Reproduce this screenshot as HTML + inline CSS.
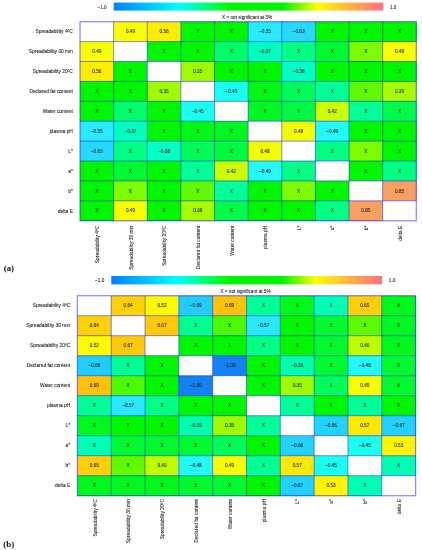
<!DOCTYPE html>
<html><head><meta charset="utf-8"><title>Correlation plots</title>
<style>
html,body{margin:0;padding:0;background:#fff;}
svg{display:block}
text{font-family:"Liberation Sans",sans-serif;fill:#262626;stroke:#262626;stroke-width:0.09px}
.n{font-size:4.66px}
.c{font-size:4.7px}
.l{font-size:4.86px}
.p{font-family:"Liberation Serif",serif;font-weight:bold;font-size:8.9px;fill:#111;stroke:none}
.gl{stroke:#0000ff;stroke-width:1;stroke-opacity:0.45}
.fr{fill:none;stroke:#0000ff;stroke-width:1.3;stroke-opacity:0.45}
</style></head><body>
<svg width="422" height="550" viewBox="0 0 422 550">
<rect width="422" height="550" fill="#fff"/>
<defs><linearGradient id="g21" x1="0" x2="1" y1="0" y2="0"><stop offset="0" stop-color="#0080ff"/><stop offset="0.246" stop-color="#00ffff"/><stop offset="0.42" stop-color="#00fc12"/><stop offset="0.435" stop-color="#00f400"/><stop offset="0.63" stop-color="#00f400"/><stop offset="0.755" stop-color="#ffff00"/><stop offset="0.87" stop-color="#ffb840"/><stop offset="1" stop-color="#ff7080"/></linearGradient></defs>
<rect x="113.7" y="2.6" width="269.50" height="8.00" fill="url(#g21)"/>
<text class="n" x="106.7" y="8.75" text-anchor="end">−1.0</text>
<text class="n" x="389.9" y="8.75">1.0</text>
<text class="n" x="247.15" y="18.70" text-anchor="middle">X = not significant at 5%</text>
<rect x="81.00" y="22.70" width="334.30" height="197.00" fill="#00f700"/>
<rect x="80.00" y="21.70" width="34.03" height="20.30" fill="#fff"/>
<rect x="113.63" y="21.70" width="34.03" height="20.30" fill="#f9ff00"/>
<text class="c" x="130.44" y="33.35" text-anchor="middle">0.49</text>
<rect x="147.26" y="21.70" width="34.03" height="20.30" fill="#ffec03"/>
<text class="c" x="164.07" y="33.35" text-anchor="middle">0.56</text>
<rect x="180.89" y="21.70" width="34.03" height="20.30" fill="#00f700"/>
<text class="c" x="197.71" y="33.35" text-anchor="middle">X</text>
<rect x="214.52" y="21.70" width="34.03" height="20.30" fill="#00f700"/>
<text class="c" x="231.34" y="33.35" text-anchor="middle">X</text>
<rect x="248.15" y="21.70" width="34.03" height="20.30" fill="#28ebff"/>
<text class="c" x="264.97" y="33.35" text-anchor="middle">−0.55</text>
<rect x="281.78" y="21.70" width="34.03" height="20.30" fill="#26daff"/>
<text class="c" x="298.60" y="33.35" text-anchor="middle">−0.63</text>
<rect x="315.41" y="21.70" width="34.03" height="20.30" fill="#00f700"/>
<text class="c" x="332.23" y="33.35" text-anchor="middle">X</text>
<rect x="349.04" y="21.70" width="34.03" height="20.30" fill="#00f700"/>
<text class="c" x="365.86" y="33.35" text-anchor="middle">X</text>
<rect x="382.67" y="21.70" width="34.03" height="20.30" fill="#00f700"/>
<text class="c" x="399.49" y="33.35" text-anchor="middle">X</text>
<rect x="80.00" y="41.60" width="34.03" height="20.30" fill="#f9ff00"/>
<text class="c" x="96.81" y="53.25" text-anchor="middle">0.49</text>
<rect x="113.63" y="41.60" width="34.03" height="20.30" fill="#fff"/>
<rect x="147.26" y="41.60" width="34.03" height="20.30" fill="#00f700"/>
<text class="c" x="164.07" y="53.25" text-anchor="middle">X</text>
<rect x="180.89" y="41.60" width="34.03" height="20.30" fill="#00f700"/>
<text class="c" x="197.71" y="53.25" text-anchor="middle">X</text>
<rect x="214.52" y="41.60" width="34.03" height="20.30" fill="#00fd6a"/>
<text class="c" x="231.34" y="53.25" text-anchor="middle">X</text>
<rect x="248.15" y="41.60" width="34.03" height="20.30" fill="#00ffbe"/>
<text class="c" x="264.97" y="53.25" text-anchor="middle">−0.37</text>
<rect x="281.78" y="41.60" width="34.03" height="20.30" fill="#00ff82"/>
<text class="c" x="298.60" y="53.25" text-anchor="middle">X</text>
<rect x="315.41" y="41.60" width="34.03" height="20.30" fill="#00f933"/>
<text class="c" x="332.23" y="53.25" text-anchor="middle">X</text>
<rect x="349.04" y="41.60" width="34.03" height="20.30" fill="#7ffb00"/>
<text class="c" x="365.86" y="53.25" text-anchor="middle">X</text>
<rect x="382.67" y="41.60" width="34.03" height="20.30" fill="#f9ff00"/>
<text class="c" x="399.49" y="53.25" text-anchor="middle">0.49</text>
<rect x="80.00" y="61.50" width="34.03" height="20.30" fill="#ffec03"/>
<text class="c" x="96.81" y="73.15" text-anchor="middle">0.56</text>
<rect x="113.63" y="61.50" width="34.03" height="20.30" fill="#00f700"/>
<text class="c" x="130.44" y="73.15" text-anchor="middle">X</text>
<rect x="147.26" y="61.50" width="34.03" height="20.30" fill="#fff"/>
<rect x="180.89" y="61.50" width="34.03" height="20.30" fill="#9ffc00"/>
<text class="c" x="197.71" y="73.15" text-anchor="middle">0.35</text>
<rect x="214.52" y="61.50" width="34.03" height="20.30" fill="#00f700"/>
<text class="c" x="231.34" y="73.15" text-anchor="middle">X</text>
<rect x="248.15" y="61.50" width="34.03" height="20.30" fill="#00f700"/>
<text class="c" x="264.97" y="73.15" text-anchor="middle">X</text>
<rect x="281.78" y="61.50" width="34.03" height="20.30" fill="#03ffc4"/>
<text class="c" x="298.60" y="73.15" text-anchor="middle">−0.38</text>
<rect x="315.41" y="61.50" width="34.03" height="20.30" fill="#00f700"/>
<text class="c" x="332.23" y="73.15" text-anchor="middle">X</text>
<rect x="349.04" y="61.50" width="34.03" height="20.30" fill="#00f700"/>
<text class="c" x="365.86" y="73.15" text-anchor="middle">X</text>
<rect x="382.67" y="61.50" width="34.03" height="20.30" fill="#00f700"/>
<text class="c" x="399.49" y="73.15" text-anchor="middle">X</text>
<rect x="80.00" y="81.40" width="34.03" height="20.30" fill="#00f700"/>
<text class="c" x="96.81" y="93.05" text-anchor="middle">X</text>
<rect x="113.63" y="81.40" width="34.03" height="20.30" fill="#00f700"/>
<text class="c" x="130.44" y="93.05" text-anchor="middle">X</text>
<rect x="147.26" y="81.40" width="34.03" height="20.30" fill="#9ffc00"/>
<text class="c" x="164.07" y="93.05" text-anchor="middle">0.35</text>
<rect x="180.89" y="81.40" width="34.03" height="20.30" fill="#fff"/>
<rect x="214.52" y="81.40" width="34.03" height="20.30" fill="#19fff0"/>
<text class="c" x="231.34" y="93.05" text-anchor="middle">−0.45</text>
<rect x="248.15" y="81.40" width="34.03" height="20.30" fill="#00f814"/>
<text class="c" x="264.97" y="93.05" text-anchor="middle">X</text>
<rect x="281.78" y="81.40" width="34.03" height="20.30" fill="#00fc5a"/>
<text class="c" x="298.60" y="93.05" text-anchor="middle">X</text>
<rect x="315.41" y="81.40" width="34.03" height="20.30" fill="#00ff97"/>
<text class="c" x="332.23" y="93.05" text-anchor="middle">X</text>
<rect x="349.04" y="81.40" width="34.03" height="20.30" fill="#60fa00"/>
<text class="c" x="365.86" y="93.05" text-anchor="middle">X</text>
<rect x="382.67" y="81.40" width="34.03" height="20.30" fill="#a6fc00"/>
<text class="c" x="399.49" y="93.05" text-anchor="middle">0.36</text>
<rect x="80.00" y="101.30" width="34.03" height="20.30" fill="#00f700"/>
<text class="c" x="96.81" y="112.95" text-anchor="middle">X</text>
<rect x="113.63" y="101.30" width="34.03" height="20.30" fill="#00fd6a"/>
<text class="c" x="130.44" y="112.95" text-anchor="middle">X</text>
<rect x="147.26" y="101.30" width="34.03" height="20.30" fill="#00f700"/>
<text class="c" x="164.07" y="112.95" text-anchor="middle">X</text>
<rect x="180.89" y="101.30" width="34.03" height="20.30" fill="#19fff0"/>
<text class="c" x="197.71" y="112.95" text-anchor="middle">−0.45</text>
<rect x="214.52" y="101.30" width="34.03" height="20.30" fill="#fff"/>
<rect x="248.15" y="101.30" width="34.03" height="20.30" fill="#00f820"/>
<text class="c" x="264.97" y="112.95" text-anchor="middle">X</text>
<rect x="281.78" y="101.30" width="34.03" height="20.30" fill="#00fa43"/>
<text class="c" x="298.60" y="112.95" text-anchor="middle">X</text>
<rect x="315.41" y="101.30" width="34.03" height="20.30" fill="#ccfd00"/>
<text class="c" x="332.23" y="112.95" text-anchor="middle">0.42</text>
<rect x="349.04" y="101.30" width="34.03" height="20.30" fill="#00ff97"/>
<text class="c" x="365.86" y="112.95" text-anchor="middle">X</text>
<rect x="382.67" y="101.30" width="34.03" height="20.30" fill="#00fb4b"/>
<text class="c" x="399.49" y="112.95" text-anchor="middle">X</text>
<rect x="80.00" y="121.20" width="34.03" height="20.30" fill="#28ebff"/>
<text class="c" x="96.81" y="132.85" text-anchor="middle">−0.55</text>
<rect x="113.63" y="121.20" width="34.03" height="20.30" fill="#00ffbe"/>
<text class="c" x="130.44" y="132.85" text-anchor="middle">−0.37</text>
<rect x="147.26" y="121.20" width="34.03" height="20.30" fill="#00f700"/>
<text class="c" x="164.07" y="132.85" text-anchor="middle">X</text>
<rect x="180.89" y="121.20" width="34.03" height="20.30" fill="#00f814"/>
<text class="c" x="197.71" y="132.85" text-anchor="middle">X</text>
<rect x="214.52" y="121.20" width="34.03" height="20.30" fill="#00f820"/>
<text class="c" x="231.34" y="132.85" text-anchor="middle">X</text>
<rect x="248.15" y="121.20" width="34.03" height="20.30" fill="#fff"/>
<rect x="281.78" y="121.20" width="34.03" height="20.30" fill="#f2ff00"/>
<text class="c" x="298.60" y="132.85" text-anchor="middle">0.48</text>
<rect x="315.41" y="121.20" width="34.03" height="20.30" fill="#25f8fc"/>
<text class="c" x="332.23" y="132.85" text-anchor="middle">−0.49</text>
<rect x="349.04" y="121.20" width="34.03" height="20.30" fill="#00f700"/>
<text class="c" x="365.86" y="132.85" text-anchor="middle">X</text>
<rect x="382.67" y="121.20" width="34.03" height="20.30" fill="#00f700"/>
<text class="c" x="399.49" y="132.85" text-anchor="middle">X</text>
<rect x="80.00" y="141.10" width="34.03" height="20.30" fill="#26daff"/>
<text class="c" x="96.81" y="152.75" text-anchor="middle">−0.63</text>
<rect x="113.63" y="141.10" width="34.03" height="20.30" fill="#00ff82"/>
<text class="c" x="130.44" y="152.75" text-anchor="middle">X</text>
<rect x="147.26" y="141.10" width="34.03" height="20.30" fill="#03ffc4"/>
<text class="c" x="164.07" y="152.75" text-anchor="middle">−0.38</text>
<rect x="180.89" y="141.10" width="34.03" height="20.30" fill="#00fc5a"/>
<text class="c" x="197.71" y="152.75" text-anchor="middle">X</text>
<rect x="214.52" y="141.10" width="34.03" height="20.30" fill="#00fa43"/>
<text class="c" x="231.34" y="152.75" text-anchor="middle">X</text>
<rect x="248.15" y="141.10" width="34.03" height="20.30" fill="#f2ff00"/>
<text class="c" x="264.97" y="152.75" text-anchor="middle">0.48</text>
<rect x="281.78" y="141.10" width="34.03" height="20.30" fill="#fff"/>
<rect x="315.41" y="141.10" width="34.03" height="20.30" fill="#00ff82"/>
<text class="c" x="332.23" y="152.75" text-anchor="middle">X</text>
<rect x="349.04" y="141.10" width="34.03" height="20.30" fill="#7ffb00"/>
<text class="c" x="365.86" y="152.75" text-anchor="middle">X</text>
<rect x="382.67" y="141.10" width="34.03" height="20.30" fill="#00f700"/>
<text class="c" x="399.49" y="152.75" text-anchor="middle">X</text>
<rect x="80.00" y="161.00" width="34.03" height="20.30" fill="#00f700"/>
<text class="c" x="96.81" y="172.65" text-anchor="middle">X</text>
<rect x="113.63" y="161.00" width="34.03" height="20.30" fill="#00f933"/>
<text class="c" x="130.44" y="172.65" text-anchor="middle">X</text>
<rect x="147.26" y="161.00" width="34.03" height="20.30" fill="#00f700"/>
<text class="c" x="164.07" y="172.65" text-anchor="middle">X</text>
<rect x="180.89" y="161.00" width="34.03" height="20.30" fill="#00ff97"/>
<text class="c" x="197.71" y="172.65" text-anchor="middle">X</text>
<rect x="214.52" y="161.00" width="34.03" height="20.30" fill="#ccfd00"/>
<text class="c" x="231.34" y="172.65" text-anchor="middle">0.42</text>
<rect x="248.15" y="161.00" width="34.03" height="20.30" fill="#25f8fc"/>
<text class="c" x="264.97" y="172.65" text-anchor="middle">−0.49</text>
<rect x="281.78" y="161.00" width="34.03" height="20.30" fill="#00ff82"/>
<text class="c" x="298.60" y="172.65" text-anchor="middle">X</text>
<rect x="315.41" y="161.00" width="34.03" height="20.30" fill="#fff"/>
<rect x="349.04" y="161.00" width="34.03" height="20.30" fill="#00f700"/>
<text class="c" x="365.86" y="172.65" text-anchor="middle">X</text>
<rect x="382.67" y="161.00" width="34.03" height="20.30" fill="#00ff82"/>
<text class="c" x="399.49" y="172.65" text-anchor="middle">X</text>
<rect x="80.00" y="180.90" width="34.03" height="20.30" fill="#00f700"/>
<text class="c" x="96.81" y="192.55" text-anchor="middle">X</text>
<rect x="113.63" y="180.90" width="34.03" height="20.30" fill="#7ffb00"/>
<text class="c" x="130.44" y="192.55" text-anchor="middle">X</text>
<rect x="147.26" y="180.90" width="34.03" height="20.30" fill="#00f700"/>
<text class="c" x="164.07" y="192.55" text-anchor="middle">X</text>
<rect x="180.89" y="180.90" width="34.03" height="20.30" fill="#60fa00"/>
<text class="c" x="197.71" y="192.55" text-anchor="middle">X</text>
<rect x="214.52" y="180.90" width="34.03" height="20.30" fill="#00ff97"/>
<text class="c" x="231.34" y="192.55" text-anchor="middle">X</text>
<rect x="248.15" y="180.90" width="34.03" height="20.30" fill="#00f700"/>
<text class="c" x="264.97" y="192.55" text-anchor="middle">X</text>
<rect x="281.78" y="180.90" width="34.03" height="20.30" fill="#7ffb00"/>
<text class="c" x="298.60" y="192.55" text-anchor="middle">X</text>
<rect x="315.41" y="180.90" width="34.03" height="20.30" fill="#00f700"/>
<text class="c" x="332.23" y="192.55" text-anchor="middle">X</text>
<rect x="349.04" y="180.90" width="34.03" height="20.30" fill="#fff"/>
<rect x="382.67" y="180.90" width="34.03" height="20.30" fill="#f7a060"/>
<text class="c" x="399.49" y="192.55" text-anchor="middle">0.85</text>
<rect x="80.00" y="200.80" width="34.03" height="20.30" fill="#00f700"/>
<text class="c" x="96.81" y="212.45" text-anchor="middle">X</text>
<rect x="113.63" y="200.80" width="34.03" height="20.30" fill="#f9ff00"/>
<text class="c" x="130.44" y="212.45" text-anchor="middle">0.49</text>
<rect x="147.26" y="200.80" width="34.03" height="20.30" fill="#00f700"/>
<text class="c" x="164.07" y="212.45" text-anchor="middle">X</text>
<rect x="180.89" y="200.80" width="34.03" height="20.30" fill="#a6fc00"/>
<text class="c" x="197.71" y="212.45" text-anchor="middle">0.36</text>
<rect x="214.52" y="200.80" width="34.03" height="20.30" fill="#00fb4b"/>
<text class="c" x="231.34" y="212.45" text-anchor="middle">X</text>
<rect x="248.15" y="200.80" width="34.03" height="20.30" fill="#00f700"/>
<text class="c" x="264.97" y="212.45" text-anchor="middle">X</text>
<rect x="281.78" y="200.80" width="34.03" height="20.30" fill="#00f700"/>
<text class="c" x="298.60" y="212.45" text-anchor="middle">X</text>
<rect x="315.41" y="200.80" width="34.03" height="20.30" fill="#00ff82"/>
<text class="c" x="332.23" y="212.45" text-anchor="middle">X</text>
<rect x="349.04" y="200.80" width="34.03" height="20.30" fill="#f7a060"/>
<text class="c" x="365.86" y="212.45" text-anchor="middle">0.85</text>
<rect x="382.67" y="200.80" width="34.03" height="20.30" fill="#fff"/>
<rect class="fr" x="80.00" y="21.70" width="336.30" height="199.00"/>
<line class="gl" x1="113.63" y1="21.70" x2="113.63" y2="220.70"/>
<line class="gl" x1="80.00" y1="41.60" x2="416.30" y2="41.60"/>
<line class="gl" x1="147.26" y1="21.70" x2="147.26" y2="220.70"/>
<line class="gl" x1="80.00" y1="61.50" x2="416.30" y2="61.50"/>
<line class="gl" x1="180.89" y1="21.70" x2="180.89" y2="220.70"/>
<line class="gl" x1="80.00" y1="81.40" x2="416.30" y2="81.40"/>
<line class="gl" x1="214.52" y1="21.70" x2="214.52" y2="220.70"/>
<line class="gl" x1="80.00" y1="101.30" x2="416.30" y2="101.30"/>
<line class="gl" x1="248.15" y1="21.70" x2="248.15" y2="220.70"/>
<line class="gl" x1="80.00" y1="121.20" x2="416.30" y2="121.20"/>
<line class="gl" x1="281.78" y1="21.70" x2="281.78" y2="220.70"/>
<line class="gl" x1="80.00" y1="141.10" x2="416.30" y2="141.10"/>
<line class="gl" x1="315.41" y1="21.70" x2="315.41" y2="220.70"/>
<line class="gl" x1="80.00" y1="161.00" x2="416.30" y2="161.00"/>
<line class="gl" x1="349.04" y1="21.70" x2="349.04" y2="220.70"/>
<line class="gl" x1="80.00" y1="180.90" x2="416.30" y2="180.90"/>
<line class="gl" x1="382.67" y1="21.70" x2="382.67" y2="220.70"/>
<line class="gl" x1="80.00" y1="200.80" x2="416.30" y2="200.80"/>
<text class="l" x="72.9" y="33.45" text-anchor="end">Spreadability 4ºC</text>
<text class="l" transform="translate(99.02,225.70) rotate(-90)" text-anchor="end">Spreadability 4ºC</text>
<text class="l" x="72.9" y="53.35" text-anchor="end">Spreadability 30 min</text>
<text class="l" transform="translate(132.64,225.70) rotate(-90)" text-anchor="end">Spreadability 30 min</text>
<text class="l" x="72.9" y="73.25" text-anchor="end">Spreadability 20ºC</text>
<text class="l" transform="translate(166.27,225.70) rotate(-90)" text-anchor="end">Spreadability 20ºC</text>
<text class="l" x="72.9" y="93.15" text-anchor="end">Declared fat content</text>
<text class="l" transform="translate(199.91,225.70) rotate(-90)" text-anchor="end">Declared fat content</text>
<text class="l" x="72.9" y="113.05" text-anchor="end">Water content</text>
<text class="l" transform="translate(233.53,225.70) rotate(-90)" text-anchor="end">Water content</text>
<text class="l" x="72.9" y="132.95" text-anchor="end">plasma pH</text>
<text class="l" transform="translate(267.17,225.70) rotate(-90)" text-anchor="end">plasma pH</text>
<text class="l" x="72.9" y="152.85" text-anchor="end">L*</text>
<text class="l" transform="translate(300.80,225.70) rotate(-90)" text-anchor="end">L*</text>
<text class="l" x="72.9" y="172.75" text-anchor="end">a*</text>
<text class="l" transform="translate(334.43,225.70) rotate(-90)" text-anchor="end">a*</text>
<text class="l" x="72.9" y="192.65" text-anchor="end">b*</text>
<text class="l" transform="translate(368.06,225.70) rotate(-90)" text-anchor="end">b*</text>
<text class="l" x="72.9" y="212.55" text-anchor="end">delta E</text>
<text class="l" transform="translate(401.69,225.70) rotate(-90)" text-anchor="end">delta E</text>
<defs><linearGradient id="g295" x1="0" x2="1" y1="0" y2="0"><stop offset="0" stop-color="#0080ff"/><stop offset="0.246" stop-color="#00ffff"/><stop offset="0.42" stop-color="#00fc12"/><stop offset="0.435" stop-color="#00f400"/><stop offset="0.63" stop-color="#00f400"/><stop offset="0.755" stop-color="#ffff00"/><stop offset="0.87" stop-color="#ffb840"/><stop offset="1" stop-color="#ff7080"/></linearGradient></defs>
<rect x="111.3" y="276.0" width="270.80" height="8.40" fill="url(#g295)"/>
<text class="n" x="104.3" y="282.35" text-anchor="end">−1.0</text>
<text class="n" x="388.8" y="282.35">1.0</text>
<text class="n" x="245.50" y="292.50" text-anchor="middle">X = not significant at 5%</text>
<rect x="78.40" y="296.70" width="336.20" height="198.00" fill="#00f700"/>
<rect x="77.40" y="295.70" width="34.22" height="20.40" fill="#fff"/>
<rect x="111.22" y="295.70" width="34.22" height="20.40" fill="#ffd207"/>
<text class="c" x="128.13" y="306.60" text-anchor="middle">0.64</text>
<rect x="145.04" y="295.70" width="34.22" height="20.40" fill="#fff901"/>
<text class="c" x="161.95" y="306.60" text-anchor="middle">0.52</text>
<rect x="178.86" y="295.70" width="34.22" height="20.40" fill="#21cdff"/>
<text class="c" x="195.77" y="306.60" text-anchor="middle">−0.69</text>
<rect x="212.68" y="295.70" width="34.22" height="20.40" fill="#ffc20a"/>
<text class="c" x="229.59" y="306.60" text-anchor="middle">0.69</text>
<rect x="246.50" y="295.70" width="34.22" height="20.40" fill="#00ff97"/>
<text class="c" x="263.41" y="306.60" text-anchor="middle">X</text>
<rect x="280.32" y="295.70" width="34.22" height="20.40" fill="#00f81c"/>
<text class="c" x="297.23" y="306.60" text-anchor="middle">X</text>
<rect x="314.14" y="295.70" width="34.22" height="20.40" fill="#00ffb5"/>
<text class="c" x="331.05" y="306.60" text-anchor="middle">X</text>
<rect x="347.96" y="295.70" width="34.22" height="20.40" fill="#ffcf08"/>
<text class="c" x="364.87" y="306.60" text-anchor="middle">0.65</text>
<rect x="381.78" y="295.70" width="34.22" height="20.40" fill="#00f81c"/>
<text class="c" x="398.69" y="306.60" text-anchor="middle">X</text>
<rect x="77.40" y="315.70" width="34.22" height="20.40" fill="#ffd207"/>
<text class="c" x="94.31" y="326.60" text-anchor="middle">0.64</text>
<rect x="111.22" y="315.70" width="34.22" height="20.40" fill="#fff"/>
<rect x="145.04" y="315.70" width="34.22" height="20.40" fill="#ffc909"/>
<text class="c" x="161.95" y="326.60" text-anchor="middle">0.67</text>
<rect x="178.86" y="315.70" width="34.22" height="20.40" fill="#00ff91"/>
<text class="c" x="195.77" y="326.60" text-anchor="middle">X</text>
<rect x="212.68" y="315.70" width="34.22" height="20.40" fill="#4cf900"/>
<text class="c" x="229.59" y="326.60" text-anchor="middle">X</text>
<rect x="246.50" y="315.70" width="34.22" height="20.40" fill="#28e7ff"/>
<text class="c" x="263.41" y="326.60" text-anchor="middle">−0.57</text>
<rect x="280.32" y="315.70" width="34.22" height="20.40" fill="#00f700"/>
<text class="c" x="297.23" y="326.60" text-anchor="middle">X</text>
<rect x="314.14" y="315.70" width="34.22" height="20.40" fill="#00f92f"/>
<text class="c" x="331.05" y="326.60" text-anchor="middle">X</text>
<rect x="347.96" y="315.70" width="34.22" height="20.40" fill="#60fa00"/>
<text class="c" x="364.87" y="326.60" text-anchor="middle">X</text>
<rect x="381.78" y="315.70" width="34.22" height="20.40" fill="#00f820"/>
<text class="c" x="398.69" y="326.60" text-anchor="middle">X</text>
<rect x="77.40" y="335.70" width="34.22" height="20.40" fill="#fff901"/>
<text class="c" x="94.31" y="346.60" text-anchor="middle">0.52</text>
<rect x="111.22" y="335.70" width="34.22" height="20.40" fill="#ffc909"/>
<text class="c" x="128.13" y="346.60" text-anchor="middle">0.67</text>
<rect x="145.04" y="335.70" width="34.22" height="20.40" fill="#fff"/>
<rect x="178.86" y="335.70" width="34.22" height="20.40" fill="#00f700"/>
<text class="c" x="195.77" y="346.60" text-anchor="middle">X</text>
<rect x="212.68" y="335.70" width="34.22" height="20.40" fill="#00f700"/>
<text class="c" x="229.59" y="346.60" text-anchor="middle">X</text>
<rect x="246.50" y="335.70" width="34.22" height="20.40" fill="#00ff82"/>
<text class="c" x="263.41" y="346.60" text-anchor="middle">X</text>
<rect x="280.32" y="335.70" width="34.22" height="20.40" fill="#00f700"/>
<text class="c" x="297.23" y="346.60" text-anchor="middle">X</text>
<rect x="314.14" y="335.70" width="34.22" height="20.40" fill="#00f92f"/>
<text class="c" x="331.05" y="346.60" text-anchor="middle">X</text>
<rect x="347.96" y="335.70" width="34.22" height="20.40" fill="#bffd00"/>
<text class="c" x="364.87" y="346.60" text-anchor="middle">0.40</text>
<rect x="381.78" y="335.70" width="34.22" height="20.40" fill="#00f81c"/>
<text class="c" x="398.69" y="346.60" text-anchor="middle">X</text>
<rect x="77.40" y="355.70" width="34.22" height="20.40" fill="#21cdff"/>
<text class="c" x="94.31" y="366.60" text-anchor="middle">−0.69</text>
<rect x="111.22" y="355.70" width="34.22" height="20.40" fill="#00ff91"/>
<text class="c" x="128.13" y="366.60" text-anchor="middle">X</text>
<rect x="145.04" y="355.70" width="34.22" height="20.40" fill="#00f700"/>
<text class="c" x="161.95" y="366.60" text-anchor="middle">X</text>
<rect x="178.86" y="355.70" width="34.22" height="20.40" fill="#fff"/>
<rect x="212.68" y="355.70" width="34.22" height="20.40" fill="#1482f2"/>
<text class="c" x="229.59" y="366.60" text-anchor="middle">−1.00</text>
<rect x="246.50" y="355.70" width="34.22" height="20.40" fill="#00f700"/>
<text class="c" x="263.41" y="366.60" text-anchor="middle">X</text>
<rect x="280.32" y="355.70" width="34.22" height="20.40" fill="#00ffad"/>
<text class="c" x="297.23" y="366.60" text-anchor="middle">−0.35</text>
<rect x="314.14" y="355.70" width="34.22" height="20.40" fill="#00f92f"/>
<text class="c" x="331.05" y="366.60" text-anchor="middle">X</text>
<rect x="347.96" y="355.70" width="34.22" height="20.40" fill="#22faf9"/>
<text class="c" x="364.87" y="366.60" text-anchor="middle">−0.48</text>
<rect x="381.78" y="355.70" width="34.22" height="20.40" fill="#00f92f"/>
<text class="c" x="398.69" y="366.60" text-anchor="middle">X</text>
<rect x="77.40" y="375.70" width="34.22" height="20.40" fill="#ffc20a"/>
<text class="c" x="94.31" y="386.60" text-anchor="middle">0.69</text>
<rect x="111.22" y="375.70" width="34.22" height="20.40" fill="#4cf900"/>
<text class="c" x="128.13" y="386.60" text-anchor="middle">X</text>
<rect x="145.04" y="375.70" width="34.22" height="20.40" fill="#00f700"/>
<text class="c" x="161.95" y="386.60" text-anchor="middle">X</text>
<rect x="178.86" y="375.70" width="34.22" height="20.40" fill="#1482f2"/>
<text class="c" x="195.77" y="386.60" text-anchor="middle">−1.00</text>
<rect x="212.68" y="375.70" width="34.22" height="20.40" fill="#fff"/>
<rect x="246.50" y="375.70" width="34.22" height="20.40" fill="#00f700"/>
<text class="c" x="263.41" y="386.60" text-anchor="middle">X</text>
<rect x="280.32" y="375.70" width="34.22" height="20.40" fill="#9ffc00"/>
<text class="c" x="297.23" y="386.60" text-anchor="middle">0.35</text>
<rect x="314.14" y="375.70" width="34.22" height="20.40" fill="#00fc5a"/>
<text class="c" x="331.05" y="386.60" text-anchor="middle">X</text>
<rect x="347.96" y="375.70" width="34.22" height="20.40" fill="#f9ff00"/>
<text class="c" x="364.87" y="386.60" text-anchor="middle">0.49</text>
<rect x="381.78" y="375.70" width="34.22" height="20.40" fill="#00f92f"/>
<text class="c" x="398.69" y="386.60" text-anchor="middle">X</text>
<rect x="77.40" y="395.70" width="34.22" height="20.40" fill="#00ff97"/>
<text class="c" x="94.31" y="406.60" text-anchor="middle">X</text>
<rect x="111.22" y="395.70" width="34.22" height="20.40" fill="#28e7ff"/>
<text class="c" x="128.13" y="406.60" text-anchor="middle">−0.57</text>
<rect x="145.04" y="395.70" width="34.22" height="20.40" fill="#00ff82"/>
<text class="c" x="161.95" y="406.60" text-anchor="middle">X</text>
<rect x="178.86" y="395.70" width="34.22" height="20.40" fill="#00f700"/>
<text class="c" x="195.77" y="406.60" text-anchor="middle">X</text>
<rect x="212.68" y="395.70" width="34.22" height="20.40" fill="#00f700"/>
<text class="c" x="229.59" y="406.60" text-anchor="middle">X</text>
<rect x="246.50" y="395.70" width="34.22" height="20.40" fill="#fff"/>
<rect x="280.32" y="395.70" width="34.22" height="20.40" fill="#00ff97"/>
<text class="c" x="297.23" y="406.60" text-anchor="middle">X</text>
<rect x="314.14" y="395.70" width="34.22" height="20.40" fill="#00f700"/>
<text class="c" x="331.05" y="406.60" text-anchor="middle">X</text>
<rect x="347.96" y="395.70" width="34.22" height="20.40" fill="#00ff97"/>
<text class="c" x="364.87" y="406.60" text-anchor="middle">X</text>
<rect x="381.78" y="395.70" width="34.22" height="20.40" fill="#00f700"/>
<text class="c" x="398.69" y="406.60" text-anchor="middle">X</text>
<rect x="77.40" y="415.70" width="34.22" height="20.40" fill="#00f81c"/>
<text class="c" x="94.31" y="426.60" text-anchor="middle">X</text>
<rect x="111.22" y="415.70" width="34.22" height="20.40" fill="#00f700"/>
<text class="c" x="128.13" y="426.60" text-anchor="middle">X</text>
<rect x="145.04" y="415.70" width="34.22" height="20.40" fill="#00f700"/>
<text class="c" x="161.95" y="426.60" text-anchor="middle">X</text>
<rect x="178.86" y="415.70" width="34.22" height="20.40" fill="#00ffad"/>
<text class="c" x="195.77" y="426.60" text-anchor="middle">−0.35</text>
<rect x="212.68" y="415.70" width="34.22" height="20.40" fill="#9ffc00"/>
<text class="c" x="229.59" y="426.60" text-anchor="middle">0.35</text>
<rect x="246.50" y="415.70" width="34.22" height="20.40" fill="#00ff97"/>
<text class="c" x="263.41" y="426.60" text-anchor="middle">X</text>
<rect x="280.32" y="415.70" width="34.22" height="20.40" fill="#fff"/>
<rect x="314.14" y="415.70" width="34.22" height="20.40" fill="#23d3ff"/>
<text class="c" x="331.05" y="426.60" text-anchor="middle">−0.66</text>
<rect x="347.96" y="415.70" width="34.22" height="20.40" fill="#ffe903"/>
<text class="c" x="364.87" y="426.60" text-anchor="middle">0.57</text>
<rect x="381.78" y="415.70" width="34.22" height="20.40" fill="#22d1ff"/>
<text class="c" x="398.69" y="426.60" text-anchor="middle">−0.67</text>
<rect x="77.40" y="435.70" width="34.22" height="20.40" fill="#00ffb5"/>
<text class="c" x="94.31" y="446.60" text-anchor="middle">X</text>
<rect x="111.22" y="435.70" width="34.22" height="20.40" fill="#00f92f"/>
<text class="c" x="128.13" y="446.60" text-anchor="middle">X</text>
<rect x="145.04" y="435.70" width="34.22" height="20.40" fill="#00f92f"/>
<text class="c" x="161.95" y="446.60" text-anchor="middle">X</text>
<rect x="178.86" y="435.70" width="34.22" height="20.40" fill="#00f92f"/>
<text class="c" x="195.77" y="446.60" text-anchor="middle">X</text>
<rect x="212.68" y="435.70" width="34.22" height="20.40" fill="#00fc5a"/>
<text class="c" x="229.59" y="446.60" text-anchor="middle">X</text>
<rect x="246.50" y="435.70" width="34.22" height="20.40" fill="#00f700"/>
<text class="c" x="263.41" y="446.60" text-anchor="middle">X</text>
<rect x="280.32" y="435.70" width="34.22" height="20.40" fill="#23d3ff"/>
<text class="c" x="297.23" y="446.60" text-anchor="middle">−0.66</text>
<rect x="314.14" y="435.70" width="34.22" height="20.40" fill="#fff"/>
<rect x="347.96" y="435.70" width="34.22" height="20.40" fill="#19fff0"/>
<text class="c" x="364.87" y="446.60" text-anchor="middle">−0.45</text>
<rect x="381.78" y="435.70" width="34.22" height="20.40" fill="#fff502"/>
<text class="c" x="398.69" y="446.60" text-anchor="middle">0.53</text>
<rect x="77.40" y="455.70" width="34.22" height="20.40" fill="#ffcf08"/>
<text class="c" x="94.31" y="466.60" text-anchor="middle">0.65</text>
<rect x="111.22" y="455.70" width="34.22" height="20.40" fill="#60fa00"/>
<text class="c" x="128.13" y="466.60" text-anchor="middle">X</text>
<rect x="145.04" y="455.70" width="34.22" height="20.40" fill="#bffd00"/>
<text class="c" x="161.95" y="466.60" text-anchor="middle">0.40</text>
<rect x="178.86" y="455.70" width="34.22" height="20.40" fill="#22faf9"/>
<text class="c" x="195.77" y="466.60" text-anchor="middle">−0.48</text>
<rect x="212.68" y="455.70" width="34.22" height="20.40" fill="#f9ff00"/>
<text class="c" x="229.59" y="466.60" text-anchor="middle">0.49</text>
<rect x="246.50" y="455.70" width="34.22" height="20.40" fill="#00ff97"/>
<text class="c" x="263.41" y="466.60" text-anchor="middle">X</text>
<rect x="280.32" y="455.70" width="34.22" height="20.40" fill="#ffe903"/>
<text class="c" x="297.23" y="466.60" text-anchor="middle">0.57</text>
<rect x="314.14" y="455.70" width="34.22" height="20.40" fill="#19fff0"/>
<text class="c" x="331.05" y="466.60" text-anchor="middle">−0.45</text>
<rect x="347.96" y="455.70" width="34.22" height="20.40" fill="#fff"/>
<rect x="381.78" y="455.70" width="34.22" height="20.40" fill="#00ffb5"/>
<text class="c" x="398.69" y="466.60" text-anchor="middle">X</text>
<rect x="77.40" y="475.70" width="34.22" height="20.40" fill="#00f81c"/>
<text class="c" x="94.31" y="486.60" text-anchor="middle">X</text>
<rect x="111.22" y="475.70" width="34.22" height="20.40" fill="#00f820"/>
<text class="c" x="128.13" y="486.60" text-anchor="middle">X</text>
<rect x="145.04" y="475.70" width="34.22" height="20.40" fill="#00f81c"/>
<text class="c" x="161.95" y="486.60" text-anchor="middle">X</text>
<rect x="178.86" y="475.70" width="34.22" height="20.40" fill="#00f92f"/>
<text class="c" x="195.77" y="486.60" text-anchor="middle">X</text>
<rect x="212.68" y="475.70" width="34.22" height="20.40" fill="#00f92f"/>
<text class="c" x="229.59" y="486.60" text-anchor="middle">X</text>
<rect x="246.50" y="475.70" width="34.22" height="20.40" fill="#00f700"/>
<text class="c" x="263.41" y="486.60" text-anchor="middle">X</text>
<rect x="280.32" y="475.70" width="34.22" height="20.40" fill="#22d1ff"/>
<text class="c" x="297.23" y="486.60" text-anchor="middle">−0.67</text>
<rect x="314.14" y="475.70" width="34.22" height="20.40" fill="#fff502"/>
<text class="c" x="331.05" y="486.60" text-anchor="middle">0.53</text>
<rect x="347.96" y="475.70" width="34.22" height="20.40" fill="#00ffb5"/>
<text class="c" x="364.87" y="486.60" text-anchor="middle">X</text>
<rect x="381.78" y="475.70" width="34.22" height="20.40" fill="#fff"/>
<rect class="fr" x="77.40" y="295.70" width="338.20" height="200.00"/>
<line class="gl" x1="111.22" y1="295.70" x2="111.22" y2="495.70"/>
<line class="gl" x1="77.40" y1="315.70" x2="415.60" y2="315.70"/>
<line class="gl" x1="145.04" y1="295.70" x2="145.04" y2="495.70"/>
<line class="gl" x1="77.40" y1="335.70" x2="415.60" y2="335.70"/>
<line class="gl" x1="178.86" y1="295.70" x2="178.86" y2="495.70"/>
<line class="gl" x1="77.40" y1="355.70" x2="415.60" y2="355.70"/>
<line class="gl" x1="212.68" y1="295.70" x2="212.68" y2="495.70"/>
<line class="gl" x1="77.40" y1="375.70" x2="415.60" y2="375.70"/>
<line class="gl" x1="246.50" y1="295.70" x2="246.50" y2="495.70"/>
<line class="gl" x1="77.40" y1="395.70" x2="415.60" y2="395.70"/>
<line class="gl" x1="280.32" y1="295.70" x2="280.32" y2="495.70"/>
<line class="gl" x1="77.40" y1="415.70" x2="415.60" y2="415.70"/>
<line class="gl" x1="314.14" y1="295.70" x2="314.14" y2="495.70"/>
<line class="gl" x1="77.40" y1="435.70" x2="415.60" y2="435.70"/>
<line class="gl" x1="347.96" y1="295.70" x2="347.96" y2="495.70"/>
<line class="gl" x1="77.40" y1="455.70" x2="415.60" y2="455.70"/>
<line class="gl" x1="381.78" y1="295.70" x2="381.78" y2="495.70"/>
<line class="gl" x1="77.40" y1="475.70" x2="415.60" y2="475.70"/>
<text class="l" x="70.2" y="306.70" text-anchor="end">Spreadability 4ºC</text>
<text class="l" transform="translate(96.51,499.10) rotate(-90)" text-anchor="end">Spreadability 4ºC</text>
<text class="l" x="70.2" y="326.70" text-anchor="end">Spreadability 30 min</text>
<text class="l" transform="translate(130.33,499.10) rotate(-90)" text-anchor="end">Spreadability 30 min</text>
<text class="l" x="70.2" y="346.70" text-anchor="end">Spreadability 20ºC</text>
<text class="l" transform="translate(164.15,499.10) rotate(-90)" text-anchor="end">Spreadability 20ºC</text>
<text class="l" x="70.2" y="366.70" text-anchor="end">Declared fat content</text>
<text class="l" transform="translate(197.97,499.10) rotate(-90)" text-anchor="end">Declared fat content</text>
<text class="l" x="70.2" y="386.70" text-anchor="end">Water content</text>
<text class="l" transform="translate(231.79,499.10) rotate(-90)" text-anchor="end">Water content</text>
<text class="l" x="70.2" y="406.70" text-anchor="end">plasma pH</text>
<text class="l" transform="translate(265.61,499.10) rotate(-90)" text-anchor="end">plasma pH</text>
<text class="l" x="70.2" y="426.70" text-anchor="end">L*</text>
<text class="l" transform="translate(299.43,499.10) rotate(-90)" text-anchor="end">L*</text>
<text class="l" x="70.2" y="446.70" text-anchor="end">a*</text>
<text class="l" transform="translate(333.25,499.10) rotate(-90)" text-anchor="end">a*</text>
<text class="l" x="70.2" y="466.70" text-anchor="end">b*</text>
<text class="l" transform="translate(367.07,499.10) rotate(-90)" text-anchor="end">b*</text>
<text class="l" x="70.2" y="486.70" text-anchor="end">delta E</text>
<text class="l" transform="translate(400.89,499.10) rotate(-90)" text-anchor="end">delta E</text>
<text class="p" x="3.7" y="271">(a)</text>
<text class="p" x="3.3" y="546.6">(b)</text>
</svg>
</body></html>
